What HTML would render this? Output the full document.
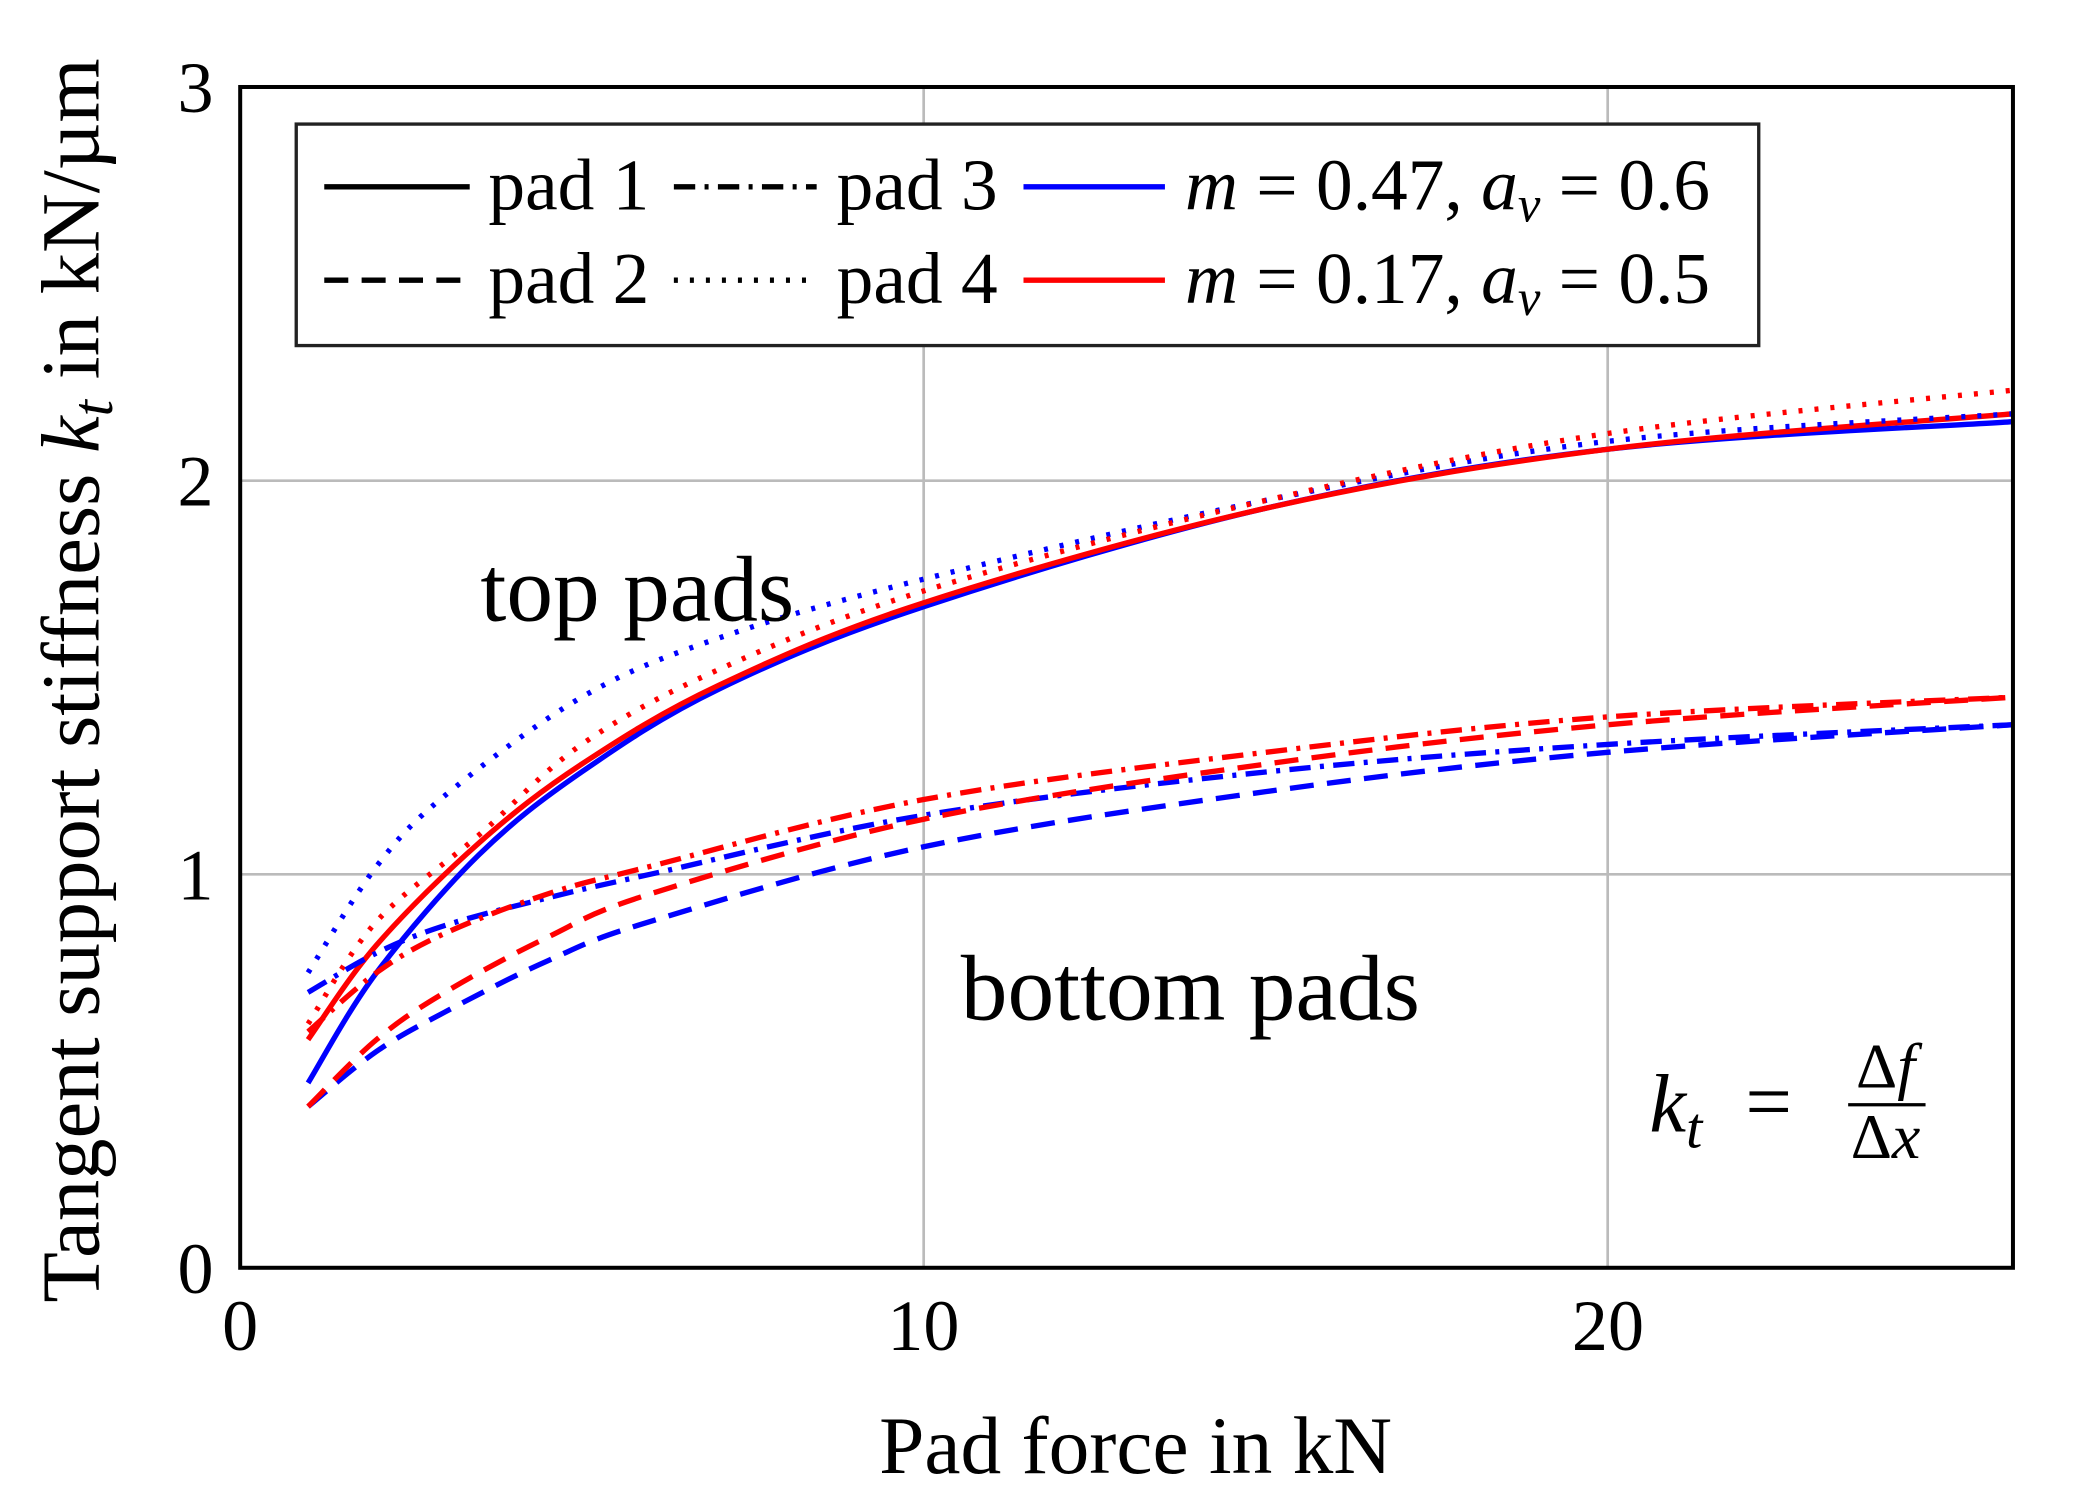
<!DOCTYPE html>
<html><head><meta charset="utf-8"><style>
html,body{margin:0;padding:0;background:#fff;}
svg{display:block;}
text{font-family:"Liberation Serif",serif;fill:#000;}
</style></head><body>
<svg id="s" width="2075" height="1497" viewBox="0 0 1555 1122" preserveAspectRatio="none" xmlns="http://www.w3.org/2000/svg">
<rect width="1555" height="1122" fill="#fff"/>
<g stroke="#bbb" stroke-width="2">
<line x1="692.2" y1="65" x2="692.2" y2="950"/>
<line x1="1204.8" y1="65" x2="1204.8" y2="950"/>
<line x1="180" y1="655.3" x2="1509" y2="655.3"/>
<line x1="180" y1="360.3" x2="1509" y2="360.3"/>
</g>
<g id="curves" fill="none" stroke-width="4"></g>
<rect x="180" y="65.2" width="1328.5" height="885" fill="none" stroke="#000" stroke-width="3"/>
<g font-size="54" text-anchor="end">
<text x="160" y="969">0</text><text x="160" y="674">1</text><text x="160" y="379">2</text><text x="160" y="84">3</text>
</g>
<g font-size="54" text-anchor="middle">
<text x="180" y="1012">0</text><text x="692" y="1012">10</text><text x="1205" y="1012">20</text>
</g>
<text x="851" y="1104" font-size="61" text-anchor="middle">Pad force in kN</text>
<text transform="translate(74,510) rotate(-90)" font-size="62" text-anchor="middle">Tangent support stiffness <tspan font-style="italic">k</tspan><tspan font-style="italic" font-size="44" dy="10">t</tspan><tspan dy="-10"> in kN/µm</tspan></text>
<text x="360" y="465" font-size="70">top pads</text>
<text x="720" y="764" font-size="70">bottom pads</text>
<text x="1236" y="848" font-size="62" font-style="italic">k<tspan font-size="44" dy="12">t</tspan></text>
<text x="1308" y="846" font-size="62">=</text>
<text x="1413" y="815" font-size="48" text-anchor="middle">Δ<tspan font-style="italic">f</tspan></text>
<line x1="1385" y1="828" x2="1443" y2="828" stroke="#000" stroke-width="2.5"/>
<text x="1413" y="868" font-size="48" text-anchor="middle">Δ<tspan font-style="italic">x</tspan></text>
<rect x="222" y="93" width="1096" height="166" fill="#fff" stroke="#222" stroke-width="2.5"/>
<g stroke-width="4" fill="none">
<line x1="243" y1="140" x2="352" y2="140" stroke="#000"/>
<line x1="243" y1="210" x2="352" y2="210" stroke="#000" stroke-dasharray="18,10"/>
<line x1="505" y1="140" x2="612" y2="140" stroke="#000" stroke-dasharray="16,7,3,7"/>
<line x1="505" y1="210" x2="612" y2="210" stroke="#000" stroke-dasharray="3,9"/>
<line x1="767" y1="140" x2="873" y2="140" stroke="#00f"/>
<line x1="767" y1="210" x2="873" y2="210" stroke="#f00"/>
</g>
<g font-size="55">
<text x="366" y="157">pad 1</text><text x="366" y="227">pad 2</text>
<text x="627" y="157">pad 3</text><text x="627" y="227">pad 4</text>
<text x="888" y="157"><tspan font-style="italic">m</tspan> = 0.47, <tspan font-style="italic">a</tspan><tspan font-style="italic" font-size="38" dy="9">v</tspan><tspan dy="-9"> = 0.6</tspan></text>
<text x="888" y="227"><tspan font-style="italic">m</tspan> = 0.17, <tspan font-style="italic">a</tspan><tspan font-style="italic" font-size="38" dy="9">v</tspan><tspan dy="-9"> = 0.5</tspan></text>
</g>
</svg>
<script>
var px=function(x){return 179.6+51.26*x}, py=function(y){return 950.3-295*y};
var S={solid:"",dash:"18,10",dashdot:"16,7,3,7",dot:"3,9"};
var C=[
["#00f","solid",[[1,0.47],[2,0.75],[3.5,1.05],[5,1.26],[7,1.47],[10,1.68],[15,1.93],[20,2.08],[26,2.15]]],
["#f00","solid",[[1,0.58],[2,0.82],[3.5,1.08],[5,1.28],[7,1.48],[10,1.69],[15,1.93],[20,2.08],[26,2.17]]],
["#00f","dot",[[1,0.75],[2,1.02],[3,1.2],[5,1.45],[7,1.6],[10,1.75],[15,1.95],[20,2.1],[26,2.17]]],
["#f00","dot",[[1,0.62],[2,0.88],[3.5,1.1],[5,1.33],[7,1.52],[10,1.72],[15,1.95],[20,2.12],[26,2.23]]],
["#00f","dashdot",[[1,0.7],[2,0.8],[3,0.87],[4.5,0.94],[6,1.0],[10,1.15],[15,1.26],[20,1.33],[26,1.38]]],
["#f00","dashdot",[[1,0.6],[2,0.75],[3,0.85],[4.5,0.95],[6,1.02],[10,1.19],[15,1.31],[20,1.4],[26,1.45]]],
["#00f","dash",[[1,0.41],[2,0.55],[3,0.65],[4.5,0.78],[6,0.88],[10,1.07],[15,1.21],[20,1.31],[26,1.38]]],
["#f00","dash",[[1,0.41],[2,0.58],[3,0.7],[4.5,0.84],[6,0.95],[10,1.14],[15,1.28],[20,1.38],[26,1.45]]]
];
var g=document.getElementById("curves");
C.forEach(function(c){
 var p=c[2].map(function(q){return [px(Math.min(q[0],25.92)),py(q[1])]});
 var d="M"+p[0][0]+","+p[0][1];
 for(var i=0;i<p.length-1;i++){
  var p0=p[Math.max(0,i-1)],p1=p[i],p2=p[i+1],p3=p[Math.min(p.length-1,i+2)];
  var c1=[p1[0]+(p2[0]-p0[0])/6,p1[1]+(p2[1]-p0[1])/6];
  var c2=[p2[0]-(p3[0]-p1[0])/6,p2[1]-(p3[1]-p1[1])/6];
  d+=" C"+c1+" "+c2+" "+p2;
 }
 var e=document.createElementNS("http://www.w3.org/2000/svg","path");
 e.setAttribute("d",d);e.setAttribute("stroke",c[0]);
 if(S[c[1]])e.setAttribute("stroke-dasharray",S[c[1]]);
 g.appendChild(e);
});
</script>
</body></html>
